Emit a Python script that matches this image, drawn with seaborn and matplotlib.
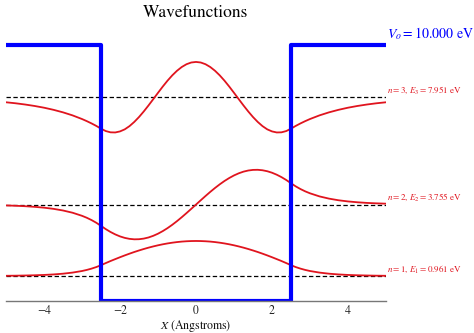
import matplotlib
matplotlib.use("Agg")
import matplotlib.pyplot as plt
import seaborn as sns
import pandas as pd

# ---- data ----
x_vals = [-5.0, -4.75, -4.5, -4.25, -4.0, -3.75, -3.5, -3.25, -3.0, -2.875, -2.75, -2.625,
          -2.5, -2.375, -2.25, -2.125, -2.0, -1.875, -1.75, -1.625, -1.5, -1.375, -1.25,
          -1.125, -1.0, -0.875, -0.75, -0.625, -0.5, -0.375, -0.25, -0.125, 0.0,
          0.125, 0.25, 0.375, 0.5, 0.625, 0.75, 0.875, 1.0, 1.125, 1.25, 1.375, 1.5,
          1.625, 1.75, 1.875, 2.0, 2.125, 2.25, 2.375, 2.5, 2.625, 2.75, 2.875, 3.0,
          3.25, 3.5, 3.75, 4.0, 4.25, 4.5, 4.75, 5.0]

# wavefunction offsets (eV units) about each energy level, from x=-5 to x=0
psi1_half = [0.009, 0.013, 0.020, 0.029, 0.042, 0.062, 0.091, 0.134, 0.196, 0.238, 0.289, 0.350,
             0.424, 0.506, 0.586, 0.661, 0.735, 0.806, 0.874, 0.939, 0.999, 1.056, 1.109,
             1.157, 1.201, 1.240, 1.274, 1.303, 1.327, 1.346, 1.359, 1.367, 1.370]
psi2_half = [-0.034, -0.047, -0.064, -0.089, -0.122, -0.168, -0.232, -0.319, -0.440, -0.516,
             -0.606, -0.711, -0.834, -0.960, -1.072, -1.167, -1.245, -1.303, -1.341, -1.359,
             -1.355, -1.331, -1.287, -1.222, -1.139, -1.038, -0.922, -0.791, -0.648, -0.495,
             -0.334, -0.168, 0.0]
psi3_half = [-0.197, -0.236, -0.284, -0.341, -0.409, -0.492, -0.591, -0.709, -0.852, -0.934,
             -1.023, -1.121, -1.229, -1.322, -1.372, -1.377, -1.336, -1.255, -1.129, -0.966,
             -0.774, -0.556, -0.321, -0.075, 0.173, 0.417, 0.647, 0.855, 1.035, 1.182,
             1.291, 1.358, 1.380]

psi1 = psi1_half + psi1_half[-2::-1]                 # even state
psi2 = psi2_half + [-v for v in psi2_half[-2::-1]]   # odd state
psi3 = psi3_half + psi3_half[-2::-1]                 # even state

levels = [1, 2, 3]
energies = [0.961, 3.755, 7.951]
psis = [psi1, psi2, psi3]

pot_x = [-5.0, -2.5, -2.5, 2.5, 2.5, 5.0]
pot_v = [10.0, 10.0, 0.0, 0.0, 10.0, 10.0]
V0 = 10.0

xticks = [-4, -2, 0, 2, 4]

# ---- style ----
sns.set_style("white")
plt.rcParams['font.family'] = ['STIXGeneral', 'DejaVu Serif']
plt.rcParams['mathtext.fontset'] = 'stix'
plt.rcParams['text.color'] = 'black'
plt.rcParams['axes.labelcolor'] = 'black'
plt.rcParams['xtick.color'] = 'black'

RED = '#e0141e'
BLUE = '#0000ff'

fig = plt.figure(figsize=(4.74, 3.33), dpi=100)
ax = fig.add_axes([0.0127, 0.0973, 0.8016, 0.818])

rows = []
for n, E, p in zip(levels, energies, psis):
    for xv, pv in zip(x_vals, p):
        rows.append({'x': xv, 'y': E + pv, 'n': n})
df = pd.DataFrame(rows)

for E in energies:
    ax.axhline(E, color='black', lw=0.9, ls=(0, (3.5, 2.0)), zorder=1)

for n in levels:
    sub = df[df['n'] == n]
    sns.lineplot(data=sub, x='x', y='y', ax=ax, color=RED, lw=1.3,
                 sort=False, estimator=None, zorder=3)

sns.lineplot(x=pot_x, y=pot_v, ax=ax, color=BLUE, lw=3.0, sort=False,
             estimator=None, zorder=4)

ax.set_xlim(-5, 5)
ax.set_ylim(0, 10.65)
ax.set_xticks(xticks)
ax.set_yticks([])
ax.tick_params(axis='x', labelsize=8.5, length=0, pad=3, colors='#222222')
ax.set_xlabel('$X$ (Angstroms)', fontsize=8.5, labelpad=1, color='#111111')
ax.set_ylabel('')
for s in ['top', 'left', 'right']:
    ax.spines[s].set_visible(False)
ax.spines['bottom'].set_color('#777777')
ax.spines['bottom'].set_linewidth(1.0)
ax.spines['bottom'].set_zorder(5)

ax.set_title('Wavefunctions', fontsize=12.5, pad=8, color='black')

ax.text(5.02, V0 + 0.1, r'$V_o = 10.000$ eV', color=BLUE, fontsize=10,
        ha='left', va='bottom', clip_on=False)
for n, E in zip(levels, energies):
    ax.text(5.02, E + 0.05, r'$n=%d$, $E_%d=%.3f$ eV' % (n, n, E), color=RED,
            fontsize=6.5, ha='left', va='bottom', clip_on=False)

fig.savefig('out.png', dpi=100)
